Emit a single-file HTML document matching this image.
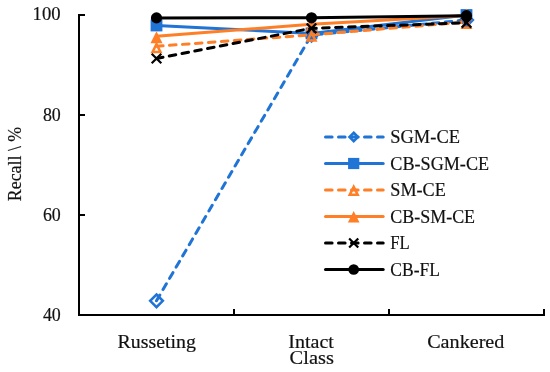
<!DOCTYPE html>
<html><head><meta charset="utf-8"><title>Recall by class</title>
<style>
html,body{margin:0;padding:0;background:#fff;}
svg{display:block;}
text{font-family:"Liberation Serif","DejaVu Serif",serif;fill:#111;stroke:#111;stroke-width:0.18px;}
</style></head><body>
<svg width="550" height="372" viewBox="0 0 550 372">
<rect width="550" height="372" fill="#fff"/>

<g stroke="#000" stroke-width="2" fill="none" stroke-linecap="butt">
<path d="M79 14V316"/>
<path d="M78 315H545"/>
<path d="M79 15H85"/>
<path d="M79 115H85"/>
<path d="M79 215H85"/>
<path d="M234 315V309"/>
<path d="M389 315V309"/>
<path d="M544 315V309"/>
</g>
<polyline points="156.5,300.8 311.5,35 466.5,20" fill="none" stroke="#1f74d6" stroke-width="3" stroke-linejoin="round" stroke-linecap="round" stroke-dasharray="6.6 6.4"/>
<path d="M156.5 294.5L162.8 300.8L156.5 307.1L150.2 300.8Z" fill="none" stroke="#1f74d6" stroke-width="2.6" stroke-linejoin="miter"/>
<path d="M311.5 28.7L317.8 35L311.5 41.3L305.2 35Z" fill="none" stroke="#1f74d6" stroke-width="2.6" stroke-linejoin="miter"/>
<path d="M466.5 13.7L472.8 20L466.5 26.3L460.2 20Z" fill="none" stroke="#1f74d6" stroke-width="2.6" stroke-linejoin="miter"/>
<polyline points="156.5,25.5 311.5,33.4 466.5,15" fill="none" stroke="#1f74d6" stroke-width="3" stroke-linejoin="round" stroke-linecap="round"/>
<rect x="150.6" y="19.6" width="11.8" height="11.8" fill="#1f74d6"/>
<rect x="305.6" y="27.5" width="11.8" height="11.8" fill="#1f74d6"/>
<rect x="460.6" y="9.1" width="11.8" height="11.8" fill="#1f74d6"/>
<polyline points="156.5,46.3 311.5,34.8 466.5,22" fill="none" stroke="#ff7f27" stroke-width="3" stroke-linejoin="round" stroke-linecap="round" stroke-dasharray="6.6 6.4"/>
<path d="M156.50 41.30L162.50 53.30L150.50 53.30ZM156.50 46.89L158.45 50.80L154.55 50.80Z" fill="#ff7f27" fill-rule="evenodd"/>
<path d="M311.50 29.80L317.50 41.80L305.50 41.80ZM311.50 35.39L313.45 39.30L309.55 39.30Z" fill="#ff7f27" fill-rule="evenodd"/>
<path d="M466.50 17.00L472.50 29.00L460.50 29.00ZM466.50 22.59L468.45 26.50L464.55 26.50Z" fill="#ff7f27" fill-rule="evenodd"/>
<polyline points="156.5,36.3 311.5,24.3 466.5,15.5" fill="none" stroke="#ff7f27" stroke-width="3" stroke-linejoin="round" stroke-linecap="round"/>
<path d="M156.5 31.299999999999997L162.5 43.3L150.5 43.3Z" fill="#ff7f27"/>
<path d="M311.5 19.3L317.5 31.3L305.5 31.3Z" fill="#ff7f27"/>
<path d="M466.5 8.4L472.5 20.4L460.5 20.4Z" fill="#ff7f27"/>
<polyline points="156.5,58.5 311.5,28.3 466.5,22.8" fill="none" stroke="#000" stroke-width="3" stroke-linejoin="round" stroke-linecap="round" stroke-dasharray="6.6 6.4"/>
<path d="M151.7 53.7L161.3 63.3M151.7 63.3L161.3 53.7" fill="none" stroke="#000" stroke-width="2.2"/>
<path d="M306.7 23.5L316.3 33.1M306.7 33.1L316.3 23.5" fill="none" stroke="#000" stroke-width="2.2"/>
<path d="M461.7 18.0L471.3 27.6M461.7 27.6L471.3 18.0" fill="none" stroke="#000" stroke-width="2.2"/>
<polyline points="156.5,17.9 311.5,17.8 466.5,15.7" fill="none" stroke="#000" stroke-width="3" stroke-linejoin="round" stroke-linecap="round"/>
<circle cx="156.5" cy="17.9" r="5.6" fill="#000"/>
<circle cx="311.5" cy="17.8" r="5.6" fill="#000"/>
<circle cx="466.5" cy="15.7" r="5.6" fill="#000"/>
<path d="M325.5 137H383.2" stroke="#1f74d6" stroke-width="3" stroke-linecap="round" fill="none" stroke-dasharray="6.6 6.4"/>
<path d="M353.7 132.779L357.921 137L353.7 141.221L349.479 137Z" fill="none" stroke="#1f74d6" stroke-width="2.6" stroke-linejoin="miter"/>
<path d="M325.5 163.5H383.2" stroke="#1f74d6" stroke-width="3" stroke-linecap="round" fill="none"/>
<rect x="348.09499999999997" y="157.895" width="11.21" height="11.21" fill="#1f74d6"/>
<path d="M325.5 190H383.2" stroke="#ff7f27" stroke-width="3" stroke-linecap="round" fill="none" stroke-dasharray="6.6 6.4"/>
<path d="M353.70 184.10L359.70 196.10L347.70 196.10ZM353.70 189.69L355.65 193.60L351.75 193.60Z" fill="#ff7f27" fill-rule="evenodd"/>
<path d="M325.5 216.5H383.2" stroke="#ff7f27" stroke-width="3" stroke-linecap="round" fill="none"/>
<path d="M353.7 210.95000000000002L359.52 222.59L347.88 222.59Z" fill="#ff7f27"/>
<path d="M325.5 243H383.2" stroke="#000" stroke-width="3" stroke-linecap="round" fill="none" stroke-dasharray="6.6 6.4"/>
<path d="M349.14 238.44L358.26 247.56M349.14 247.56L358.26 238.44" fill="none" stroke="#000" stroke-width="2.2"/>
<path d="M325.5 269.5H383.2" stroke="#000" stroke-width="3" stroke-linecap="round" fill="none"/>
<circle cx="353.7" cy="269.5" r="5.319999999999999" fill="#000"/>
<text x="390.3" y="143" font-size="18.4" textLength="69.7" lengthAdjust="spacingAndGlyphs">SGM-CE</text>
<text x="390.3" y="169.5" font-size="18.4" textLength="98.8" lengthAdjust="spacingAndGlyphs">CB-SGM-CE</text>
<text x="390.3" y="196" font-size="18.4" textLength="55.5" lengthAdjust="spacingAndGlyphs">SM-CE</text>
<text x="390.3" y="222.5" font-size="18.4" textLength="84.8" lengthAdjust="spacingAndGlyphs">CB-SM-CE</text>
<text x="390.3" y="249" font-size="18.4" textLength="19.5" lengthAdjust="spacingAndGlyphs">FL</text>
<text x="390.3" y="275.5" font-size="18.4" textLength="49.6" lengthAdjust="spacingAndGlyphs">CB-FL</text>
<text x="32.6" y="20.3" font-size="18.4" textLength="28.0" lengthAdjust="spacingAndGlyphs">100</text>
<text x="42.9" y="120.9" font-size="18.4" textLength="17.9" lengthAdjust="spacingAndGlyphs">80</text>
<text x="42.9" y="221.0" font-size="18.4" textLength="17.9" lengthAdjust="spacingAndGlyphs">60</text>
<text x="42.9" y="321.3" font-size="18.4" textLength="17.9" lengthAdjust="spacingAndGlyphs">40</text>
<text transform="translate(20.8,201.2) rotate(-90)" font-size="18.4" textLength="74.4" lengthAdjust="spacingAndGlyphs">Recall \ %</text>
<text x="117.6" y="347.5" font-size="18.4" textLength="78.4" lengthAdjust="spacingAndGlyphs">Russeting</text>
<text x="288.3" y="347.5" font-size="18.4" textLength="45.6" lengthAdjust="spacingAndGlyphs">Intact</text>
<text x="289.6" y="363.6" font-size="18.4" textLength="44.3" lengthAdjust="spacingAndGlyphs">Class</text>
<text x="427.2" y="347.5" font-size="18.4" textLength="77.2" lengthAdjust="spacingAndGlyphs">Cankered</text>
</svg>
</body></html>
